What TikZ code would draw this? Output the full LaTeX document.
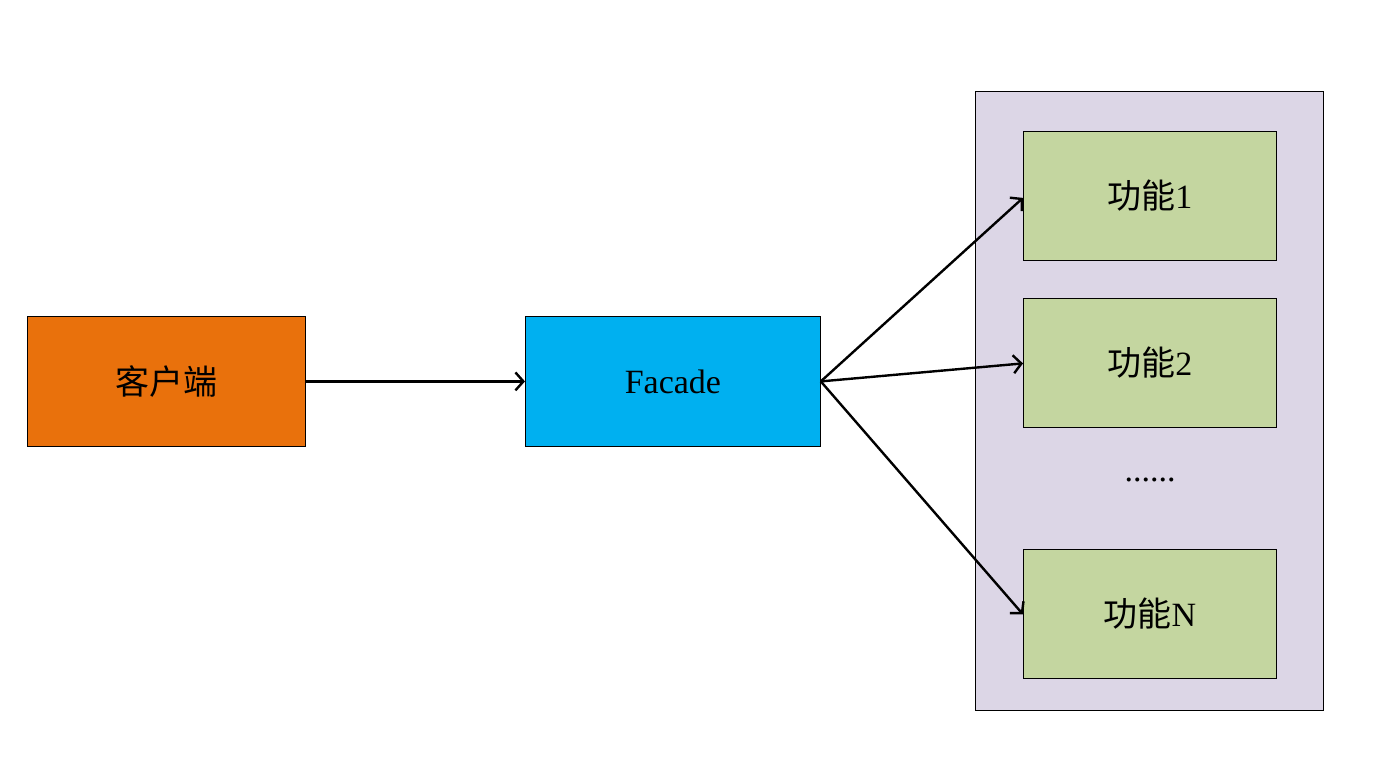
\documentclass[tikz,border=0pt]{standalone}
\usepackage{fontspec}
\usetikzlibrary{arrows.meta}
\setmainfont{Liberation Serif}
\newfontfamily\cjk{Noto Sans CJK SC}
\begin{document}
\begin{tikzpicture}[x=1pt,y=-1pt,
  box/.style={draw=black,line width=0.8pt,anchor=north west,inner sep=0pt,font=\fontsize{34}{40}\selectfont},
  arr/.style={line width=2.4pt,-{Straight Barb[length=8pt,width=18pt,line width=2.4pt]}}]
\useasboundingbox (0,0) rectangle (1385,776);
\fill[white] (0,0) rectangle (1385,776);
\node[box,fill={rgb,255:red,220;green,214;blue,230},minimum width=348pt,minimum height=619pt] (grp) at (975,91) {};
\node[box,fill={rgb,255:red,233;green,113;blue,12},minimum width=278pt,minimum height=130pt] (c) at (27,316) {\cjk 客户端};
\node[box,fill={rgb,255:red,0;green,176;blue,240},minimum width=295pt,minimum height=130pt] (f) at (525,316) {Facade};
\node[box,fill={rgb,255:red,196;green,214;blue,160},minimum width=253pt,minimum height=129pt] (f1) at (1023,131) {{\cjk 功能}1};
\node[box,fill={rgb,255:red,196;green,214;blue,160},minimum width=253pt,minimum height=129pt] (f2) at (1023,298) {{\cjk 功能}2};
\node[box,fill={rgb,255:red,196;green,214;blue,160},minimum width=253pt,minimum height=129pt] (fn) at (1023,549) {{\cjk 功能}N};
\node[font=\fontsize{34}{40}\selectfont] (dots) at (1150,480) {......};
\draw[arr] (c.east) -- (f.west);
\draw[arr] (f.east) -- ([yshift=-2pt]f1.west);
\draw[arr] (f.east) -- ([yshift=-0.5pt]f2.west);
\draw[arr] (f.east) -- ([yshift=-0.5pt]fn.west);
\end{tikzpicture}
\end{document}
